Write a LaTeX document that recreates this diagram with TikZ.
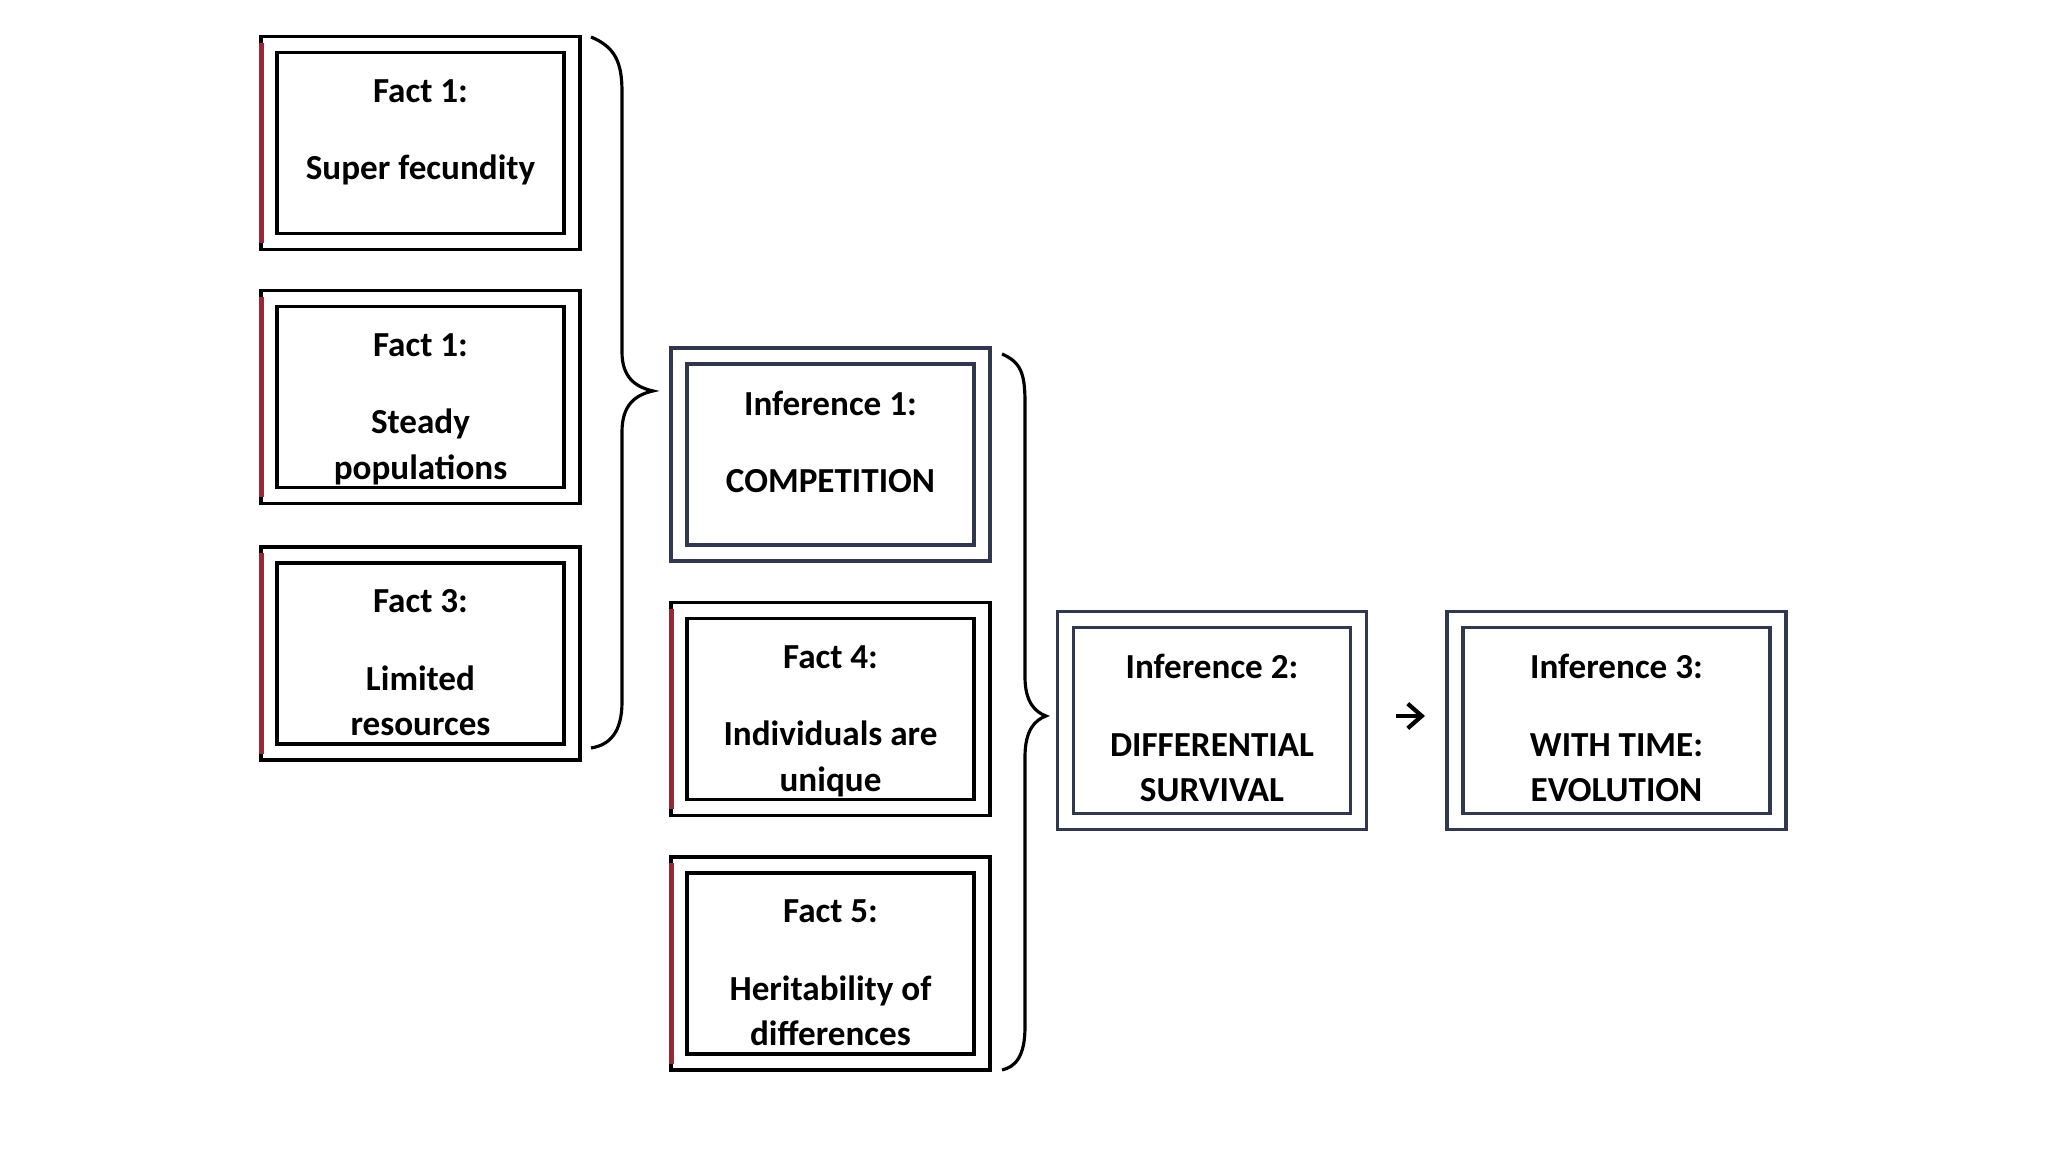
\documentclass[tikz,border=0pt]{standalone}
\usepackage{fontspec}
\setmainfont{Carlito}
\usetikzlibrary{arrows.meta}
\definecolor{fred}{RGB}{150,40,55}
\definecolor{iblue}{RGB}{50,55,80}
\begin{document}
\begin{tikzpicture}[
  bx/.style={draw=black, double=white, double distance=3.6pt, line width=1pt, minimum width=#1cm, minimum height=1.97cm, inner sep=0pt},
  txt/.style={font=\fontsize{10}{13}\selectfont\bfseries, align=center, anchor=north, inner sep=0pt},
  brace/.style={line width=0.9pt}
]
\useasboundingbox (0,0) rectangle (20.48,11.52);
% Facts column 1
\node[bx=3.03] (f1) at (4.205,10.09) {};
\node[bx=3.03] (f2) at (4.205,7.55) {};
\node[bx=3.03] (f3) at (4.205,4.985) {};
% column 2
\node[bx=3.03, draw=iblue] (i1) at (8.305,6.975) {};
\node[bx=3.03] (f4) at (8.305,4.43) {};
\node[bx=3.03] (f5) at (8.305,1.885) {};
% inferences
\node[bx=2.93, minimum height=2.02cm, draw=iblue] (i2) at (12.12,4.315) {};
\node[bx=3.23, minimum height=2.02cm, draw=iblue] (i3) at (16.165,4.315) {};
% red left edges
\foreach \n in {f1,f2,f3,f4,f5}{
  \draw[fred, line width=1.3pt] ([xshift=-1.6pt]\n.north west) -- ([xshift=-1.6pt]\n.south west);
}
% texts
\node[txt] (t1) at ([yshift=-0.36cm]f1.north) {Fact 1:\\[9pt] Super fecundity};
\node[txt] (t2) at ([yshift=-0.36cm]f2.north) {Fact 1:\\[9pt] Steady\\ populations};
\node[txt] (t3) at ([yshift=-0.36cm]f3.north) {Fact 3:\\[9pt] Limited\\ resources};
\node[txt] (t4) at ([yshift=-0.36cm]i1.north) {Inference 1:\\[9pt] COMPETITION};
\node[txt] (t5) at ([yshift=-0.36cm]f4.north) {Fact 4:\\[9pt] Individuals are\\ unique};
\node[txt] (t6) at ([yshift=-0.36cm]f5.north) {Fact 5:\\[9pt] Heritability of\\ differences};
\node[txt] (t7) at ([yshift=-0.36cm]i2.north) {Inference 2:\\[9pt] DIFFERENTIAL\\ SURVIVAL};
\node[txt] (t8) at ([yshift=-0.36cm]i3.north) {Inference 3:\\[9pt] WITH TIME:\\ EVOLUTION};
% braces
\coordinate (b1t) at (5.91,11.15); \coordinate (b1m) at (6.53,7.61); \coordinate (b1b) at (5.91,4.04);
\draw[brace] (b1t) .. controls (6.15,11.05) and (6.22,10.9) .. (6.22,10.6)
  -- (6.22,8.0) .. controls (6.22,7.75) and (6.35,7.65) .. (b1m)
  .. controls (6.35,7.57) and (6.22,7.47) .. (6.22,7.2)
  -- (6.22,4.5) .. controls (6.22,4.2) and (6.1,4.07) .. (b1b);
\coordinate (b2t) at (10.02,7.98); \coordinate (b2m) at (10.46,4.36); \coordinate (b2b) at (10.02,0.82);
\draw[brace] (b2t) .. controls (10.2,7.9) and (10.25,7.8) .. (10.25,7.5)
  -- (10.25,4.75) .. controls (10.25,4.5) and (10.35,4.4) .. (b2m)
  .. controls (10.35,4.32) and (10.25,4.22) .. (10.25,3.95)
  -- (10.25,1.25) .. controls (10.25,0.95) and (10.15,0.85) .. (b2b);
% arrow
\coordinate (a1) at (13.96,4.36); \coordinate (a2) at (14.25,4.36);
\draw[line width=1.2pt, -{Straight Barb[length=4pt,width=7pt]}] (a1) -- (a2);
\end{tikzpicture}
\end{document}
